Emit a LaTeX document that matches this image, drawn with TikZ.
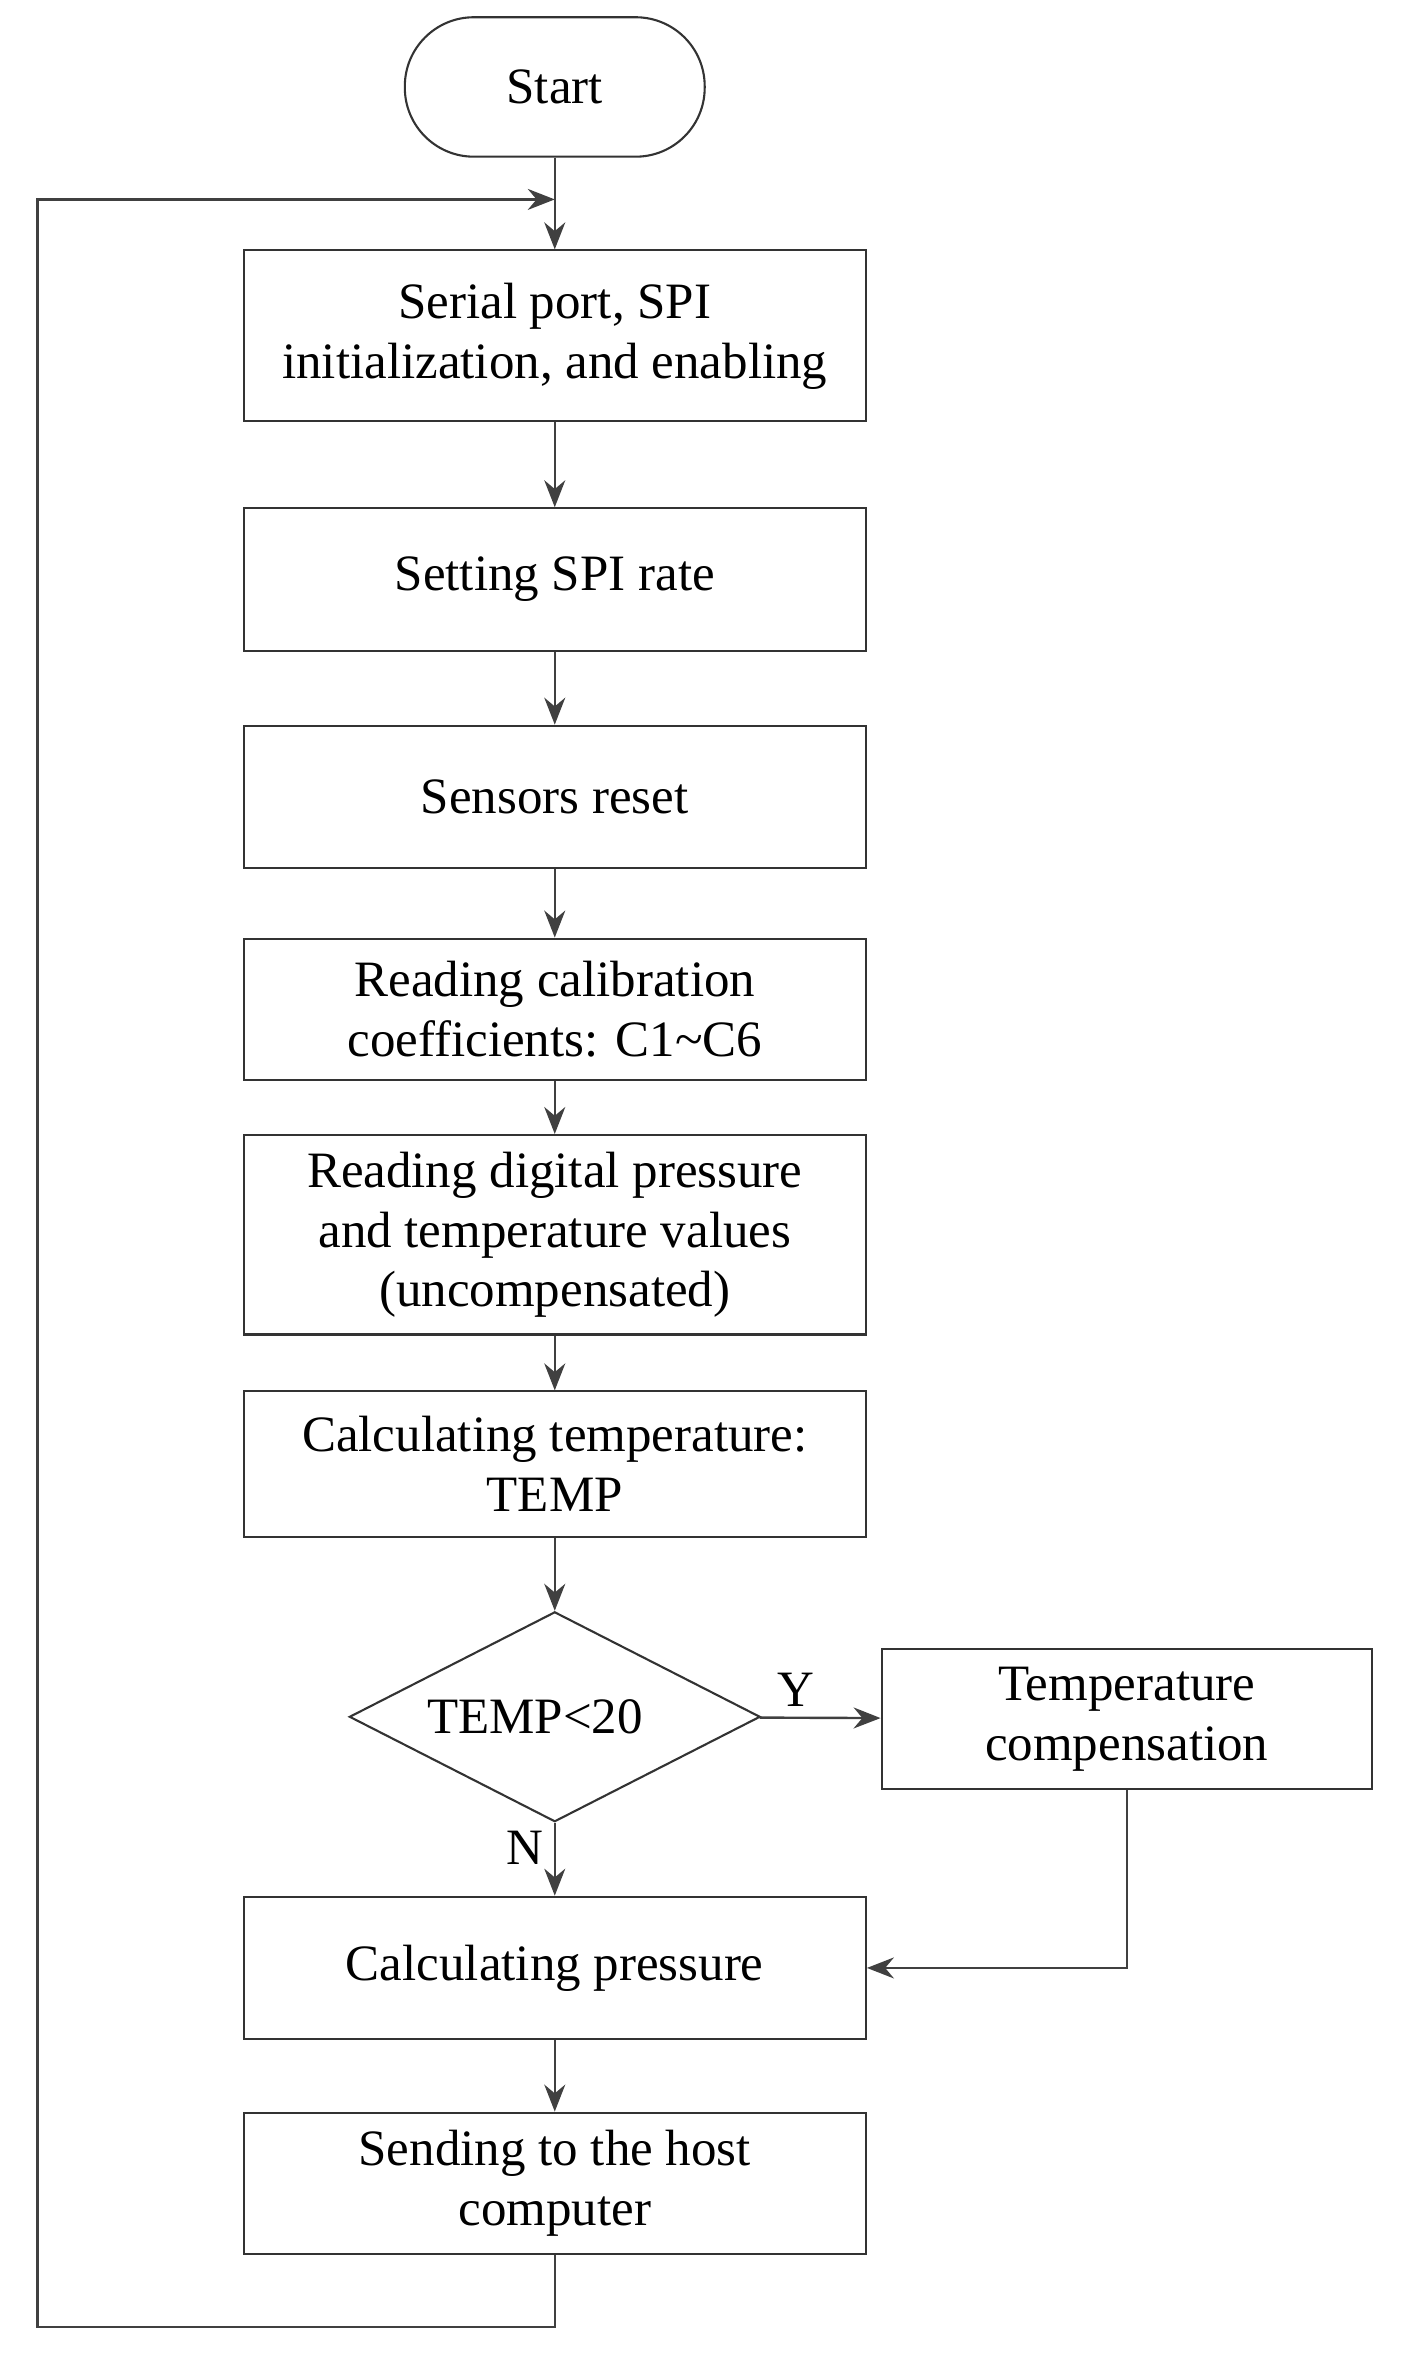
\documentclass[tikz,border=0pt]{standalone}
\usepackage{fontspec}
\setmainfont{Liberation Serif}
\usetikzlibrary{shapes.geometric, arrows.meta, positioning}

\begin{document}
\begin{tikzpicture}[
         x=0.5pt, y=-0.5pt,
         font=\fontsize{17}{20}\selectfont,
         flow/.style={-{Stealth[length=9pt, width=7pt]}, line width=0.8pt, draw=black!75},
         process/.style={rectangle, draw=black!80, line width=0.7pt, align=center, minimum width=207.5pt, inner sep=2pt},
         terminal/.style={rectangle, rounded corners=23pt, draw=black!80, line width=0.7pt, minimum width=100pt, minimum height=46.5pt},
         decision/.style={diamond, draw=black!80, line width=0.7pt, aspect=1.96, minimum width=137pt, minimum height=70pt, inner sep=0pt},
         branch/.style={font=\fontsize{17}{20}\selectfont}
      ]
         \useasboundingbox (0,0) rectangle (940,1580);

         % Nodes of the flow
         \node[terminal] (start) at (370,58) {Start};
         \node[process, minimum height=57pt] (init) at (370,224) {Serial port, SPI\\initialization, and enabling};
         \node[process, minimum height=47.5pt] (rate) at (370,386.5) {Setting SPI rate};
         \node[process, minimum height=47.5pt] (reset) at (370,531.5) {Sensors reset};
         \node[process, minimum height=47pt] (coef) at (370,673) {Reading calibration\\coefficients: C1\textasciitilde C6};
         \node[process, minimum height=66.5pt] (raw) at (370,823.5) {Reading digital pressure\\and temperature values\\(uncompensated)};
         \node[process, minimum height=48.5pt] (temp) at (370,976.5) {Calculating temperature:\\TEMP};
         \node[decision] (check) at (370,1145) {TEMP<20\textcelsius};
         \node[process, minimum width=163.5pt, minimum height=46.5pt] (comp) at (751.5,1146.5) {Temperature\\compensation};
         \node[process, minimum height=47.5pt] (press) at (370,1312.5) {Calculating pressure};
         \node[process, minimum height=47pt] (send) at (370,1456) {Sending to the host\\computer};

         % Loop back coordinates
         \coordinate (loopin) at (370,133);
         \coordinate (loopbl) at (25,1552);
         \coordinate (loopbr) at (370,1552);
         \coordinate (loopt) at (25,133);
         \coordinate (compc) at (751.5,1312.5);

         % Arrows
         \draw[line width=0.8pt, draw=black!75] (start) -- (loopin);
         \draw[flow] (loopin) -- (init);
         \draw[flow] (init) -- (rate);
         \draw[flow] (rate) -- (reset);
         \draw[flow] (reset) -- (coef);
         \draw[flow] (coef) -- (raw);
         \draw[flow] (raw) -- (temp);
         \draw[flow] (temp) -- (check);
         \draw[flow] (check) -- node[pos=0.3, above, branch] {Y} (comp);
         \draw[flow] (check) -- node[pos=0.35, left, branch] {N} (press);
         \draw[flow] (comp) -- (compc) -- (press);
         \draw[flow] (press) -- (send);
         \draw[flow] (send) -- (loopbr) -- (loopbl) -- (loopt) -- (loopin);
      \end{tikzpicture}
\end{document}
